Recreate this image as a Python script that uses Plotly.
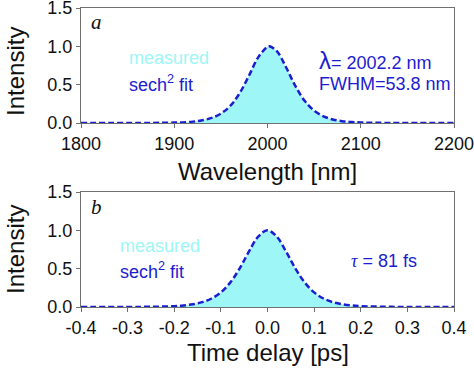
import plotly.graph_objects as go

# Top panel: spectrum (wavelength in nm)
wavelength = [1800, 1900, 1920, 1930, 1940, 1950, 1960, 1970, 1980, 1990, 2000, 2002,
              2010, 2020, 2030, 2040, 2050, 2060, 2070, 2080, 2090, 2100, 2120, 2200]
spec_measured = [0.0, 0.005, 0.018, 0.035, 0.066, 0.123, 0.222, 0.387, 0.614, 0.856, 0.995, 1.0,
                 0.937, 0.724, 0.480, 0.286, 0.161, 0.087, 0.046, 0.024, 0.013, 0.007, 0.002, 0.0]
spec_fit = spec_measured

# Bottom panel: autocorrelation (time delay in ps)
delay = [-0.4, -0.3, -0.25, -0.2, -0.18, -0.16, -0.14, -0.12, -0.1, -0.08, -0.06, -0.04, -0.02, 0.0,
         0.02, 0.04, 0.06, 0.08, 0.1, 0.12, 0.14, 0.16, 0.18, 0.2, 0.25, 0.3, 0.4]
ac_measured = [0.0, 0.001, 0.003, 0.011, 0.020, 0.036, 0.063, 0.111, 0.191, 0.318, 0.500, 0.721, 0.918, 1.0,
               0.918, 0.721, 0.500, 0.318, 0.191, 0.111, 0.063, 0.036, 0.020, 0.011, 0.003, 0.001, 0.0]
ac_fit = ac_measured

x1_ticks = [1800, 1900, 2000, 2100, 2200]
x2_ticks = [-0.4, -0.3, -0.2, -0.1, 0.0, 0.1, 0.2, 0.3, 0.4]
x2_ticktext = ["-0.4", "-0.3", "-0.2", "-0.1", "0.0", "0.1", "0.2", "0.3", "0.4"]
y_ticks = [0.0, 0.5, 1.0, 1.5]
y_ticktext = ["0.0", "0.5", "1.0", "1.5"]

FILL = "#9ef6f6"
LINE = "#1c1cd0"
FRAME = "#707070"
FONT = "Liberation Sans, Arial, sans-serif"

fig = go.Figure()
fig.add_trace(go.Scatter(x=wavelength, y=spec_measured, mode="lines", line=dict(width=0, shape="spline", color=FILL),
                         fill="tozeroy", fillcolor=FILL, xaxis="x", yaxis="y", showlegend=False))
fig.add_trace(go.Scatter(x=wavelength, y=spec_fit, mode="lines",
                         line=dict(width=2.5, color=LINE, dash="6px,3px", shape="spline"),
                         xaxis="x", yaxis="y", showlegend=False))
fig.add_trace(go.Scatter(x=delay, y=ac_measured, mode="lines", line=dict(width=0, shape="spline", color=FILL),
                         fill="tozeroy", fillcolor=FILL, xaxis="x2", yaxis="y2", showlegend=False))
fig.add_trace(go.Scatter(x=delay, y=ac_fit, mode="lines",
                         line=dict(width=2.5, color=LINE, dash="6px,3px", shape="spline"),
                         xaxis="x2", yaxis="y2", showlegend=False))

axis_common = dict(showline=True, mirror=True, linecolor=FRAME, linewidth=1, showgrid=False, zeroline=False,
                   ticks="outside", ticklen=4, tickcolor=FRAME, automargin=False, ticklabeloverflow="allow",
                   tickfont=dict(family=FONT, size=18, color="#111"))

fig.update_layout(
    template="none",
    width=474, height=368,
    margin=dict(l=81, r=20, t=8, b=61, autoexpand=False),
    paper_bgcolor="white", plot_bgcolor="white",
    xaxis=dict(domain=[0, 1], range=[1800, 2200], tickvals=x1_ticks, anchor="y", **axis_common),
    yaxis=dict(domain=[0.6154, 1], range=[0, 1.5], tickvals=y_ticks, ticktext=y_ticktext, anchor="x", **axis_common),
    xaxis2=dict(domain=[0, 1], range=[-0.4, 0.4], tickvals=x2_ticks, ticktext=x2_ticktext, anchor="y2", **axis_common),
    yaxis2=dict(domain=[0, 0.3846], range=[0, 1.5], tickvals=y_ticks, ticktext=y_ticktext, anchor="x2", **axis_common),
)

ann = []
def txt(x, y, text, xref, yref, size=18, color=LINE, family=FONT, xanchor="left", textangle=0):
    ann.append(dict(x=x, y=y, xref=xref, yref=yref, text=text, showarrow=False, xanchor=xanchor,
                    yanchor="middle", textangle=textangle, font=dict(family=family, size=size, color=color)))

SERIF = "Liberation Serif, Times New Roman, serif"
# Panel labels
txt(1817, 1.317, "<i>a</i>", "x", "y", size=21, color="#111", family=SERIF, xanchor="center")
txt(-0.366, 1.30, "<i>b</i>", "x2", "y2", size=21, color="#111", family=SERIF, xanchor="center")
# Legends
txt(1849, 0.85, "measured", "x", "y", color=FILL)
txt(1849, 0.52, "sech<sup>2</sup> fit", "x", "y")
txt(-0.3206, 0.80, "measured", "x2", "y2", color=FILL)
txt(-0.3206, 0.47, "sech<sup>2</sup> fit", "x2", "y2")
# Results
txt(2053, 0.81, "<span style='font-size:24px'>λ</span>= 2002.2 nm", "x", "y")
txt(2053, 0.51, "FWHM=53.8 nm", "x", "y")
txt(0.175, 0.60, "<i><span style='font-family:Liberation Serif'>τ</span></i> = 81 fs", "x2", "y2")
# Axis titles
txt(0.5, (307 - 171) / 299, "Wavelength [nm]", "paper", "paper", size=24, color="#111", xanchor="center")
txt(0.5, (307 - 353) / 299, "Time delay [ps]", "paper", "paper", size=24, color="#111", xanchor="center")
txt((15 - 81) / 373, (307 - 72) / 299, "Intensity", "paper", "paper", size=24, color="#111", xanchor="center", textangle=-90)
txt((15 - 81) / 373, (307 - 250) / 299, "Intensity", "paper", "paper", size=24, color="#111", xanchor="center", textangle=-90)

fig.update_layout(annotations=ann)
fig.write_html("out.html", config={"displayModeBar": False},
               post_script="document.body.style.margin='0';document.body.style.overflow='hidden';")
